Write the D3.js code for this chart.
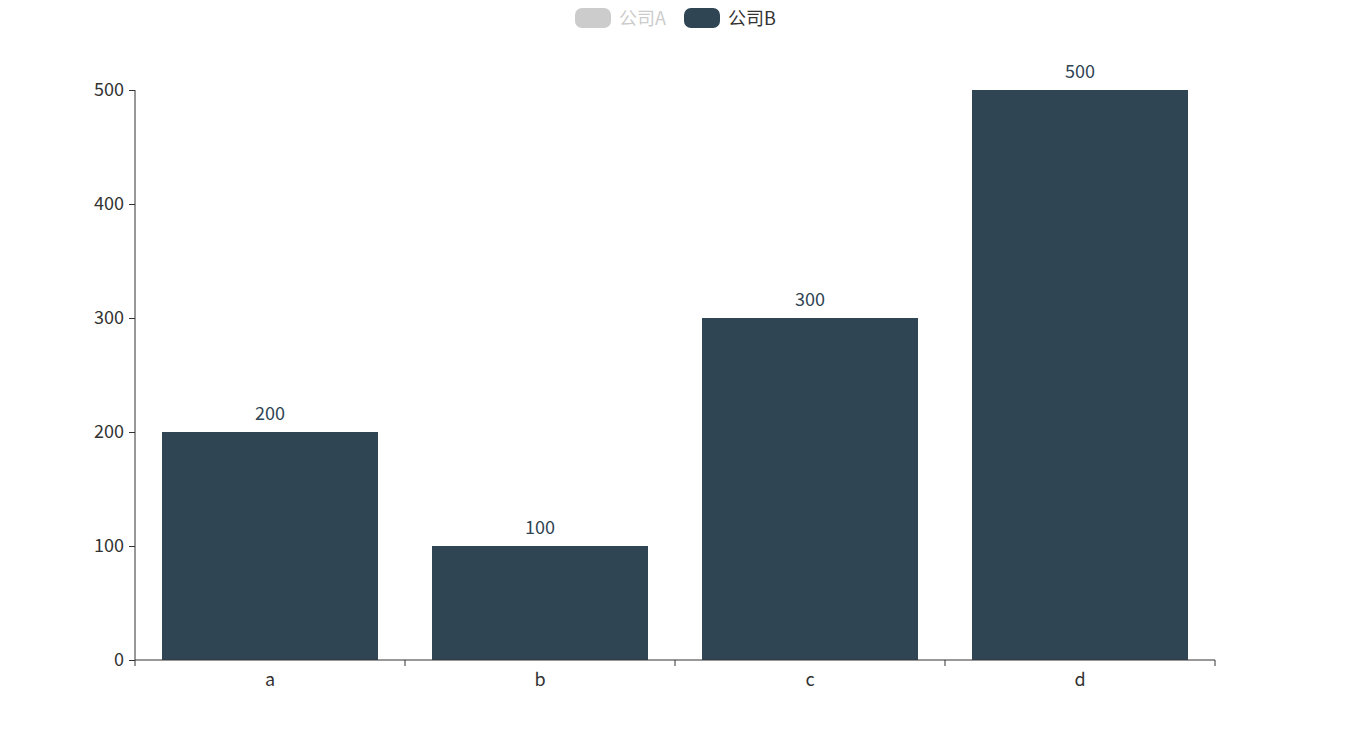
<!DOCTYPE html>
<html><head><meta charset="utf-8">
<script src="https://cdn.jsdelivr.net/npm/d3@7"></script>
<style>body{margin:0;background:#fff;} svg{display:block;font-family:"Noto Sans CJK SC","Noto Sans",sans-serif;}</style>
</head><body>
<svg id="c" width="1350" height="750"></svg>
<script>
const categories = ["a","b","c","d"];
const seriesNames = ["公司A","公司B"];
const seriesB = [200,100,300,500];
const yTicks = [0,100,200,300,400,500];

const FONT = '"Noto Sans CJK SC","Noto Sans",sans-serif';
const svg = d3.select("#c");
const m = {l:135, r:1215, t:90, b:660};
const x = d3.scaleBand().domain(categories).range([m.l,m.r]).paddingInner(0).paddingOuter(0);
const y = d3.scaleLinear().domain([0,500]).range([m.b,m.t]);
const bw = x.bandwidth()*0.8;

svg.append("g").selectAll("rect").data(seriesB).join("rect")
  .attr("x",(d,i)=>x(categories[i])+(x.bandwidth()-bw)/2)
  .attr("y",d=>y(d)).attr("width",bw).attr("height",d=>y(0)-y(d))
  .attr("fill","#2f4554");

svg.append("g").selectAll("text").data(seriesB).join("text")
  .attr("x",(d,i)=>x(categories[i])+x.bandwidth()/2)
  .attr("y",d=>y(d)-12).attr("text-anchor","middle")
  .attr("font-size",18).attr("fill","#2f4554").text(d=>d);

const yAxis = svg.append("g").attr("transform",`translate(${m.l},0)`)
  .call(d3.axisLeft(y).tickValues(yTicks).tickSize(6).tickPadding(5));
const xAxis = svg.append("g").attr("transform",`translate(0,${m.b})`)
  .call(d3.axisBottom(x).tickSize(0).tickPadding(13));
xAxis.selectAll(".tick").append("line").attr("x1",-x.bandwidth()/2).attr("x2",-x.bandwidth()/2).attr("y2",6).attr("stroke","#333");
xAxis.append("line").attr("x1",m.r).attr("x2",m.r).attr("y2",6).attr("stroke","#333");
[yAxis,xAxis].forEach(g=>{
  g.select(".domain").attr("stroke","#333").attr("d", g===yAxis?`M0,${m.b}V${m.t}`:`M${m.l},0H${m.r}`);
  g.selectAll(".tick line").attr("stroke","#333");
  g.selectAll("text").attr("font-size",18).attr("fill","#333").attr("font-family",FONT);
});

const leg = svg.append("g");
const legItems = [{name:seriesNames[0],x:575,color:"#ccc",tc:"#ccc"},{name:seriesNames[1],x:684,color:"#2f4554",tc:"#333"}];
legItems.forEach(it=>{
  leg.append("rect").attr("x",it.x).attr("y",8).attr("width",36).attr("height",20).attr("rx",7).attr("fill",it.color);
  leg.append("text").attr("x",it.x+44).attr("y",17).attr("dominant-baseline","central").attr("font-size",18).attr("fill",it.tc).text(it.name);
});
</script>
</body></html>
